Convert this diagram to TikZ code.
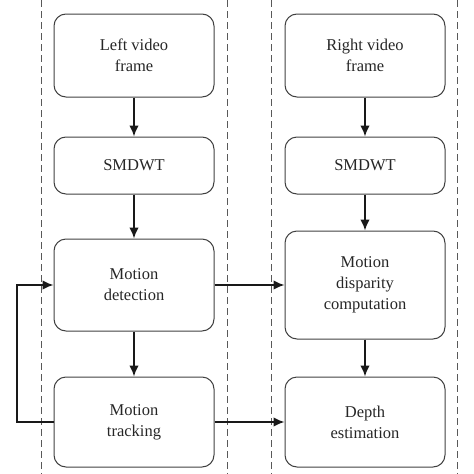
\documentclass[tikz,border=0pt]{standalone}
\usepackage{fontspec}
\setmainfont{Liberation Serif}
\usepackage{tikz}
\usetikzlibrary{arrows.meta}

\tikzset{
  blk/.style={rectangle, rounded corners=12pt, draw=black!75, line width=1pt,
    minimum width=160pt, align=center, font=\fontsize{16.5}{21}\selectfont, text=black!85},
  flow/.style={->, line width=1.8pt, draw=black!90},
  lane/.style={dashed, dash pattern=on 7pt off 4pt, draw=black!65, line width=1pt}
}

\begin{document}
\begin{tikzpicture}[>={Latex[length=11pt,width=9.5pt]}, x=1pt, y=-1pt]
        \useasboundingbox (0,0) rectangle (474,474);
        \draw[lane] (41,0)--(41,474);
        \draw[lane] (227,0)--(227,474);
        \draw[lane] (271,0)--(271,474);
        \draw[lane] (457,0)--(457,474);

        \node (lframe) at (134,55.5) [blk, minimum height=83pt] {Left video\\frame};
        \node (lsmd) at (134,165.5) [blk, minimum height=57pt] {SMDWT};
        \node (detect) at (134,285) [blk, minimum height=92pt] {Motion\\detection};
        \node (track) at (134,422) [blk, minimum height=90pt] {Motion\\tracking};
        \node (rframe) at (365,55.5) [blk, minimum height=83pt] {Right video\\frame};
        \node (rsmd) at (365,165.5) [blk, minimum height=57pt] {SMDWT};
        \node (disp) at (365,285) [blk, minimum height=108pt] {Motion\\disparity\\computation};
        \node (depth) at (365,422) [blk, minimum height=90pt] {Depth\\estimation};
        \coordinate (loop) at (17,0);

        \draw[flow] (lframe)--(lsmd);
        \draw[flow] (lsmd)--(detect);
        \draw[flow] (detect)--(track);
        \draw[flow] (rframe)--(rsmd);
        \draw[flow] (rsmd)--(disp);
        \draw[flow] (disp)--(depth);
        \draw[flow] (detect.east)--(disp.west);
        \draw[flow] (track.east)--(depth.west);
        \draw[flow] (track.west)--(track.west-|loop)--(detect.west-|loop)--(detect.west);

    \end{tikzpicture}
\end{document}
